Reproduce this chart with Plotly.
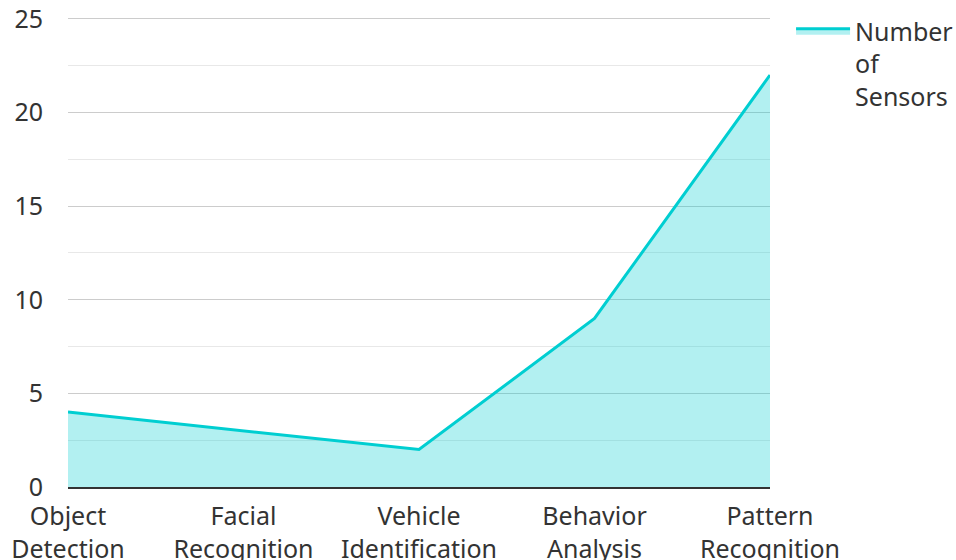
import plotly.graph_objects as go

categories = ["Object<br>Detection", "Facial<br>Recognition", "Vehicle<br>Identification",
              "Behavior<br>Analysis", "Pattern<br>Recognition"]
sensors = [4, 3, 2, 9, 22]
series_name = "Number<br>of<br>Sensors"

fig = go.Figure()
fig.add_trace(go.Scatter(
    x=list(range(len(categories))), y=sensors, mode="lines", name=series_name,
    line=dict(color="#00CED1", width=3), fill="tozeroy",
    fillcolor="rgba(0,206,209,0.3)", showlegend=True,
))

fig.update_layout(
    width=956, height=560,
    margin=dict(l=68, r=186, t=17, b=73, autoexpand=False),
    paper_bgcolor="white", plot_bgcolor="white",
    font=dict(family="Noto Sans, Open Sans, sans-serif", size=25, color="#333333"),
    showlegend=True,
    legend=dict(x=1.03, y=1.019, xanchor="left", yanchor="top", bgcolor="rgba(0,0,0,0)",
                font=dict(size=25), valign="top", itemwidth=54),
    xaxis=dict(range=[0, 4], tickmode="array", tickvals=list(range(len(categories))),
               ticktext=categories, showgrid=False, zeroline=False, automargin=False,
               showline=True, linecolor="#333333", linewidth=2, ticks="", ticklen=0,
               ticklabelstandoff=6),
    yaxis=dict(range=[0, 25.1], tickvals=[0, 5, 10, 15, 20, 25], showgrid=True,
               gridcolor="#cccccc", gridwidth=1, automargin=False,
               zeroline=False, showline=False, ticks="", ticklabelstandoff=24,
               minor=dict(tickvals=[2.5, 7.5, 12.5, 17.5, 22.5], showgrid=True,
                          gridcolor="#e8e8e8", gridwidth=1)),
)

fig.write_html("out.html")
